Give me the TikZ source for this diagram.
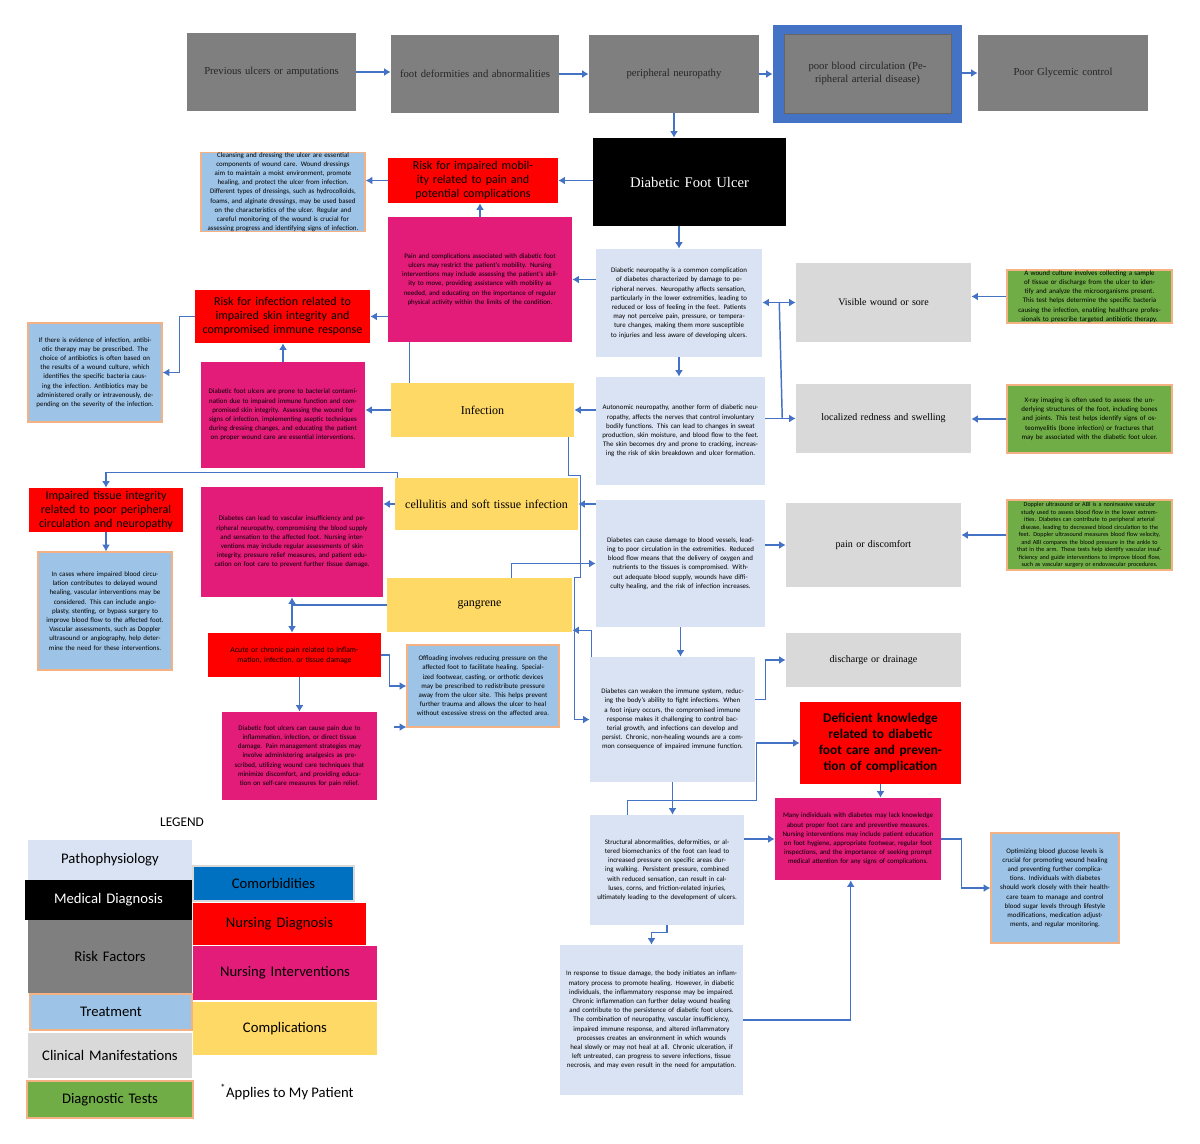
\documentclass[tikz,border=0pt]{standalone}
\usepackage{fontspec}
\setmainfont{Carlito}
\newfontfamily\gar{Liberation Serif}
\usetikzlibrary{calc,arrows.meta}
\definecolor{cgray}{HTML}{7F7F7F}
\definecolor{cpat}{HTML}{DAE3F3}
\definecolor{ctx}{HTML}{9DC3E6}
\definecolor{cor}{HTML}{F4B183}
\definecolor{ccl}{HTML}{D9D9D9}
\definecolor{cgr}{HTML}{70AD47}
\definecolor{cpk}{HTML}{E31B79}
\definecolor{cye}{HTML}{FFD966}
\definecolor{cbl}{HTML}{0070C0}
\definecolor{carr}{HTML}{4472C4}
\newcommand\Bx[7]{%
\pgfmathsetmacro\bw{(#4-#2)*0.75}\pgfmathsetmacro\bh{(#5-#3)*0.75}\pgfmathsetmacro\tw{(#4-#2)*0.75-8}%
\node[#1,minimum width=\bw pt,minimum height=\bh pt,text width=\tw pt] (#6) at ({(#2+#4)/2},{(#3+#5)/2}) {#7};}
\tikzset{
 bx/.style={inner sep=0pt,align=center,font=\fontsize{5.2}{6.9}\selectfont},
 top/.style={bx,fill=cgray,font=\gar\fontsize{8}{10}\selectfont,text=black!85},
 pat/.style={bx,fill=cpat},
 tx/.style={bx,fill=ctx,draw=cor,line width=1pt},
 cl/.style={bx,fill=ccl,font=\gar\fontsize{7.5}{9}\selectfont},
 gr/.style={bx,fill=cgr,draw=cor,line width=1pt},
 pk/.style={bx,fill=cpk},
 rd/.style={bx,fill=red,font=\fontsize{9}{10.5}\selectfont},
 ye/.style={bx,fill=cye,font=\gar\fontsize{9}{11}\selectfont},
 lg/.style={inner sep=0pt,align=center,font=\fontsize{11}{13}\selectfont},
 arr/.style={carr,line width=1.1pt,-{Latex[length=5pt,width=6pt]}},
 arr2/.style={carr,line width=1.1pt,{Latex[length=5pt,width=6pt]}-{Latex[length=5pt,width=6pt]}},
 ln/.style={carr,line width=1.1pt}
}
\begin{document}
\begin{tikzpicture}[x=0.75pt,y=-0.75pt]
\useasboundingbox (0,0) rectangle (1200,1143);
% hidden connector (behind pink box)
\Bx{inner sep=0,fill=none}{391}{383}{574}{437}{infx}{}
\Bx{inner sep=0,fill=none}{195}{290}{370}{343}{rinfx}{}
\draw[arr] ($(infx.north west)+(19,0)$) |- (rinfx.east);
% top row
\Bx{top}{187}{33}{356}{111}{prev}{Previous ulcers or amputations}
\Bx{top}{391}{35}{559}{113}{foot}{foot deformities and abnormalities}
\Bx{top}{589}{35}{759}{113}{neur}{peripheral neuropathy}
\Bx{bx,fill=carr}{773}{25}{962}{123}{pbco}{}
\Bx{top,draw=black!60,line width=0.6pt}{784}{34}{951}{113}{pbc}{poor blood circulation (Peripheral arterial disease)}
\Bx{top}{978}{35}{1148}{111}{glyc}{Poor Glycemic control}
\Bx{bx,fill=black,text=white,font=\gar\fontsize{11}{13}\selectfont}{593}{138}{786}{226}{dfu}{Diabetic Foot Ulcer}
% left column
\Bx{rd}{388}{158}{558}{203}{rmob}{Risk for impaired mobility related to pain and potential complications}
\Bx{tx}{201}{153}{365}{231}{tx1}{Cleansing and dressing the ulcer are essential components of wound care. Wound dressings aim to maintain a moist environment, promote healing, and protect the ulcer from infection. Different types of dressings, such as hydrocolloids, foams, and alginate dressings, may be used based on the characteristics of the ulcer. Regular and careful monitoring of the wound is crucial for assessing progress and identifying signs of infection.}
\Bx{pk}{388}{217}{572}{342}{pmob}{Pain and complications associated with diabetic foot ulcers may restrict the patient's mobility. Nursing interventions may include assessing the patient's ability to move, providing assistance with mobility as needed, and educating on the importance of regular physical activity within the limits of the condition.}
\Bx{rd}{195}{290}{370}{343}{rinf}{Risk for infection related to impaired skin integrity and compromised immune response}
\Bx{tx}{28}{323}{162}{422}{tx2}{If there is evidence of infection, antibiotic therapy may be prescribed. The choice of antibiotics is often based on the results of a wound culture, which identifies the specific bacteria causing the infection. Antibiotics may be administered orally or intravenously, depending on the severity of the infection.}
\Bx{pk}{201}{362}{365}{468}{pinf}{Diabetic foot ulcers are prone to bacterial contamination due to impaired immune function and compromised skin integrity. Assessing the wound for signs of infection, implementing aseptic techniques during dressing changes, and educating the patient on proper wound care are essential interventions.}
\Bx{ye}{391}{383}{574}{437}{inf}{Infection}
\Bx{ye}{395}{478}{578}{530}{cell}{cellulitis and soft tissue infection}
\Bx{rd}{29}{488}{183}{532}{rimp}{Impaired tissue integrity related to poor peripheral circulation and neuropathy}
\Bx{pk}{201}{487}{383}{597}{pvasc}{Diabetes can lead to vascular insufficiency and peripheral neuropathy, compromising the blood supply and sensation to the affected foot. Nursing interventions may include regular assessments of skin integrity, pressure relief measures, and patient education on foot care to prevent further tissue damage.}
\Bx{tx}{38}{552}{172}{670}{tx3}{In cases where impaired blood circulation contributes to delayed wound healing, vascular interventions may be considered. This can include angioplasty, stenting, or bypass surgery to improve blood flow to the affected foot. Vascular assessments, such as Doppler ultrasound or angiography, help determine the need for these interventions.}
\Bx{ye}{387}{578}{572}{632}{gang}{gangrene}
\Bx{rd,font=\fontsize{5.8}{7.5}\selectfont}{208}{633}{381}{677}{rpain}{Acute or chronic pain related to inflammation, infection, or tissue damage}
\Bx{tx}{407}{645}{559}{727}{off}{Offloading involves reducing pressure on the affected foot to facilitate healing. Specialized footwear, casting, or orthotic devices may be prescribed to redistribute pressure away from the ulcer site. This helps prevent further trauma and allows the ulcer to heal without excessive stress on the affected area.}
\Bx{pk}{222}{712}{377}{800}{ppain}{Diabetic foot ulcers can cause pain due to inflammation, infection, or direct tissue damage. Pain management strategies may involve administering analgesics as prescribed, utilizing wound care techniques that minimize discomfort, and providing education on self-care measures for pain relief.}
% centre column
\Bx{pat}{596}{249}{762}{357}{neuro}{Diabetic neuropathy is a common complication of diabetes characterized by damage to peripheral nerves. Neuropathy affects sensation, particularly in the lower extremities, leading to reduced or loss of feeling in the feet. Patients may not perceive pain, pressure, or temperature changes, making them more susceptible to injuries and less aware of developing ulcers.}
\Bx{pat}{596}{377}{765}{485}{auto}{Autonomic neuropathy, another form of diabetic neuropathy, affects the nerves that control involuntary bodily functions. This can lead to changes in sweat production, skin moisture, and blood flow to the feet. The skin becomes dry and prone to cracking, increasing the risk of skin breakdown and ulcer formation.}
\Bx{pat}{596}{500}{765}{627}{blood}{Diabetes can cause damage to blood vessels, leading to poor circulation in the extremities. Reduced blood flow means that the delivery of oxygen and nutrients to the tissues is compromised. Without adequate blood supply, wounds have difficulty healing, and the risk of infection increases.}
\Bx{pat}{590}{657}{755}{782}{imm}{Diabetes can weaken the immune system, reducing the body's ability to fight infections. When a foot injury occurs, the compromised immune response makes it challenging to control bacterial growth, and infections can develop and persist. Chronic, non-healing wounds are a common consequence of impaired immune function.}
\Bx{pat}{590}{815}{744}{925}{struct}{Structural abnormalities, deformities, or altered biomechanics of the foot can lead to increased pressure on specific areas during walking. Persistent pressure, combined with reduced sensation, can result in calluses, corns, and friction-related injuries, ultimately leading to the development of ulcers.}
\Bx{pat}{560}{945}{743}{1095}{infl}{In response to tissue damage, the body initiates an inflammatory process to promote healing. However, in diabetic individuals, the inflammatory response may be impaired. Chronic inflammation can further delay wound healing and contribute to the persistence of diabetic foot ulcers. The combination of neuropathy, vascular insufficiency, impaired immune response, and altered inflammatory processes creates an environment in which wounds heal slowly or may not heal at all. Chronic ulceration, if left untreated, can progress to severe infections, tissue necrosis, and may even result in the need for amputation.}
% right column
\Bx{cl}{796}{263}{971}{342}{vis}{Visible wound or sore}
\Bx{cl}{796}{384}{971}{453}{loc}{localized redness and swelling}
\Bx{cl}{786}{503}{961}{587}{pain}{pain or discomfort}
\Bx{cl}{786}{633}{961}{687}{dis}{discharge or drainage}
\Bx{rd,font=\bfseries\fontsize{10}{12}\selectfont}{800}{702}{961}{784}{def}{Deficient knowledge related to diabetic foot care and prevention of complication}
\Bx{pk}{775}{798}{941}{880}{know}{Many individuals with diabetes may lack knowledge about proper foot care and preventive measures. Nursing interventions may include patient education on foot hygiene, appropriate footwear, regular foot inspections, and the importance of seeking prompt medical attention for any signs of complications.}
\Bx{tx}{991}{833}{1119}{943}{gluc}{Optimizing blood glucose levels is crucial for promoting wound healing and preventing further complications. Individuals with diabetes should work closely with their healthcare team to manage and control blood sugar levels through lifestyle modifications, medication adjustments, and regular monitoring.}
\Bx{gr}{1007}{270}{1172}{323}{wc}{A wound culture involves collecting a sample of tissue or discharge from the ulcer to identify and analyze the microorganisms present. This test helps determine the specific bacteria causing the infection, enabling healthcare professionals to prescribe targeted antibiotic therapy.}
\Bx{gr}{1007}{385}{1172}{453}{xr}{X-ray imaging is often used to assess the underlying structures of the foot, including bones and joints. This test helps identify signs of osteomyelitis (bone infection) or fractures that may be associated with the diabetic foot ulcer.}
\Bx{gr,font=\fontsize{4.6}{5.6}\selectfont}{1007}{500}{1172}{570}{dop}{Doppler ultrasound or ABI is a noninvasive vascular study used to assess blood flow in the lower extremities. Diabetes can contribute to peripheral arterial disease, leading to decreased blood circulation to the feet. Doppler ultrasound measures blood flow velocity, and ABI compares the blood pressure in the ankle to that in the arm. These tests help identify vascular insufficiency and guide interventions to improve blood flow, such as vascular surgery or endovascular procedures.}
% legend
\node[font=\fontsize{10}{12}\selectfont] (legt) at (182,822) {LEGEND};
\Bx{lg,fill=cpat}{28}{840}{192}{880}{l1}{Pathophysiology}
\Bx{lg,fill=black,text=white}{25}{880}{192}{920}{l2}{Medical Diagnosis}
\Bx{lg,fill=cgray}{28}{920}{192}{993}{l3}{Risk Factors}
\Bx{lg,fill=ctx,draw=cor,line width=1pt}{30}{994}{192}{1030}{l4}{Treatment}
\Bx{lg,fill=ccl}{28}{1033}{192}{1078}{l5}{Clinical Manifestations}
\Bx{lg,fill=cgr,draw=cor,line width=1pt}{27}{1081}{193}{1118}{l6}{Diagnostic Tests}
\Bx{lg,fill=cbl,draw=ccl,line width=1pt}{193}{866}{354}{901}{l7}{Comorbidities}
\Bx{lg,fill=red}{193}{903}{366}{945}{l8}{Nursing Diagnosis}
\Bx{lg,fill=cpk}{193}{946}{377}{1000}{l9}{Nursing Interventions}
\Bx{lg,fill=cye}{193}{1002}{377}{1055}{l10}{Complications}
\node[font=\fontsize{11}{13}\selectfont] (star) at (287,1092) {\textsuperscript{*}Applies to My Patient};
% connectors
\draw[arr] (prev.east) -- (prev.east -| foot.west);
\draw[arr] (foot.east) -- (foot.east -| neur.west);
\draw[arr] (neur.east) -- (neur.east -| pbco.west);
\draw[arr] (pbco.east |- glyc.west) -- (glyc.west);
\draw[arr] (neur.south) -- (neur.south |- dfu.north);
\draw[arr] (dfu.west |- rmob.east) -- (rmob.east);
\draw[arr] (rmob.west) -- (rmob.west -| tx1.east);
\draw[arr] (pmob.north) -- (pmob.north |- rmob.south);
\draw[arr] (neuro.west |- pmob.east) -- (pmob.east);
\draw[arr] (dfu.south -| neuro.north) -- (neuro.north);
\draw[arr] (neuro.south) -- (neuro.south |- auto.north);
\draw[arr] (auto.west |- inf.east) -- (inf.east);
\draw[arr] (inf.west) -- (inf.west -| pinf.east);
\draw[arr] (pinf.north) -- (pinf.north |- rinf.south);
\draw[arr] (rinf.west) -- ++(-15,0) |- (tx2.east);
\draw[arr] (blood.west |- cell.east) -- (cell.east);
\draw[arr] (cell.west) -- (cell.west -| pvasc.east);
\draw[arr] ($(cell.north west)+(3,0)$) -- ++(0,-5) -| (rimp.north);
\draw[arr] (rimp.south) -- (rimp.south |- tx3.north);
\draw[ln] (gang.west) -- (gang.west -| pvasc.south);
\draw[arr2] (pvasc.south) -- (pvasc.south |- rpain.north);
\draw[arr] (rpain.east) -- ++(8,0) |- (off.west);
\draw[arr] (rpain.south -| ppain.north) -- (ppain.north);
\coordinate (offin) at (394,727);
\draw[arr] (offin) -- (offin -| off.west);
\draw[arr] ($(gang.north west)+(125,0)$) |- (blood.west);
\draw[arr] ($(imm.north west)+(2,0)$) |- ($(gang.south east)+(0,-2)$);
\draw[arr] ($(inf.south east)+(-6,0)$) -- ++(0,38) -- ++(12,0) -- ++(0,102) -- ++(-6,0) |- (imm.west);
\draw[arr] (blood.south) -- (blood.south |- imm.north);
\draw[arr] (blood.east |- pain.west) -- (pain.west);
\draw[arr] ($(imm.east)+(0,-20)$) -- ++(10,0) |- (dis.west);
\draw[arr] (imm.south) -- (imm.south |- struct.north);
\draw[arr] ($(struct.north west)+(38,0)$) -- ++(0,-14) -- ++(129,0) |- (def.west);
\draw[arr] (struct.east |- know.west) -- (know.west);
\draw[arr] (def.south) -- (def.south |- know.north);
\draw[arr] (struct.south) -- ++(0,7) -| (infl.north);
\draw[arr] (infl.east) -| ($(know.south west)+(76,0)$);
\draw[arr] (know.east) -- ++(20,0) |- (gluc.west);
\draw[arr2] (neuro.east |- vis.west) -- (vis.west);
\draw[arr] (auto.east |- loc.west) -- (loc.west);
\draw[ln] ($(auto.east |- loc.west)+(17,0)$) -- ($(neuro.east |- vis.west)+(17,0)$);
\draw[arr] (wc.west) -- (wc.west -| vis.east);
\draw[arr] (xr.west) -- (xr.west -| loc.east);
\draw[arr] (dop.west) -- (dop.west -| pain.east);
\end{tikzpicture}
\end{document}
